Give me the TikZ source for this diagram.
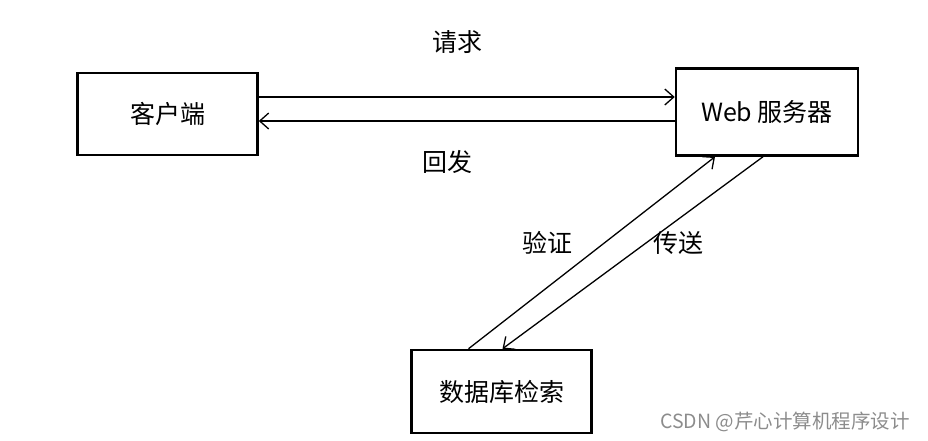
\documentclass[tikz,border=0pt]{standalone}
\usepackage{fontspec}
\setmainfont{Noto Sans CJK SC}
\newfontfamily\markfont{Noto Sans CJK SC}
\usetikzlibrary{arrows.meta,positioning,calc}

\tikzset{
  stage/.style={draw, line width=2.5pt, minimum width=180pt, minimum height=82pt,
    inner sep=0pt, font=\fontsize{25}{29}\selectfont},
  flow/.style={line width=1.3pt, -{Straight Barb[length=9pt,width=16pt,line width=1.3pt]}},
  tag/.style={font=\fontsize{25}{29}\selectfont, inner sep=0pt},
}

\begin{document}
\begin{tikzpicture}[x=1pt, y=-1pt]
\useasboundingbox (0,0) rectangle (928,440);
\node[stage] (client) at (167.5,114) {客户端};
\node[stage, minimum width=182pt, minimum height=87pt, right=416pt of client, yshift=2pt] (server) {Web 服务器};
\node[stage, minimum height=83pt] (db) at (501.5,391.5) {数据库检索};
% request / reply between client and server
\draw[flow] ([yshift=17pt]client.east) -- ([yshift=17pt]client.east -| server.west);
\draw[flow] ([yshift=-7pt]client.east -| server.west) -- ([yshift=-7pt]client.east);
% server <-> database
\draw[flow] ([xshift=-33pt]db.north) -- ([xshift=-52pt]server.south);
\draw[flow] ([xshift=-4pt]server.south) -- ([xshift=1pt]db.north);
\node[tag] (req) at (457,42) {请求};
\node[tag] (rep) at (447,162) {回发};
\node[tag] (chk) at (547,243) {验证};
\node[tag] (snd) at (678,243) {传送};
\node[text=black!45, inner sep=0pt, anchor=east, font=\markfont\fontsize{19.5}{22}\selectfont] (mark) at (910,422) {CSDN @芹心计算机程序设计};
\end{tikzpicture}
\end{document}
